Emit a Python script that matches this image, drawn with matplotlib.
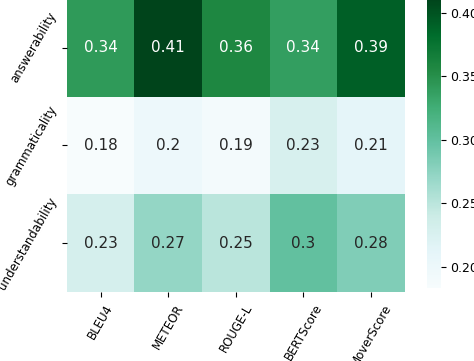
import numpy as np
import matplotlib
matplotlib.use("Agg")
import matplotlib.pyplot as plt
import seaborn as sns

metrics = ["BLEU4", "METEOR", "ROUGE-L", "BERTScore", "MoverScore"]
criteria = ["answerability", "grammaticality", "understandability"]

answerability = [0.342, 0.411, 0.358, 0.338, 0.392]
grammaticality = [0.183, 0.199, 0.190, 0.228, 0.211]
understandability = [0.230, 0.272, 0.250, 0.300, 0.282]

data = np.array([answerability, grammaticality, understandability])

fig = plt.figure(figsize=(4.74, 3.61), dpi=100)
ax = fig.add_axes([0.141, 0.191, 0.713, 0.812])
cax = fig.add_axes([0.901, 0.202, 0.029, 0.801])

sns.heatmap(data, annot=True, cmap="BuGn", ax=ax, cbar_ax=cax,
            xticklabels=metrics, yticklabels=criteria,
            annot_kws={"size": 11})

ax.set_xticklabels(metrics, rotation=60, fontsize=8.5)
ax.set_yticklabels(criteria, rotation=60, va="center", fontsize=8.5)
ax.tick_params(axis="y", pad=2)
cax.tick_params(labelsize=9)

fig.savefig("out.png", dpi=100)
